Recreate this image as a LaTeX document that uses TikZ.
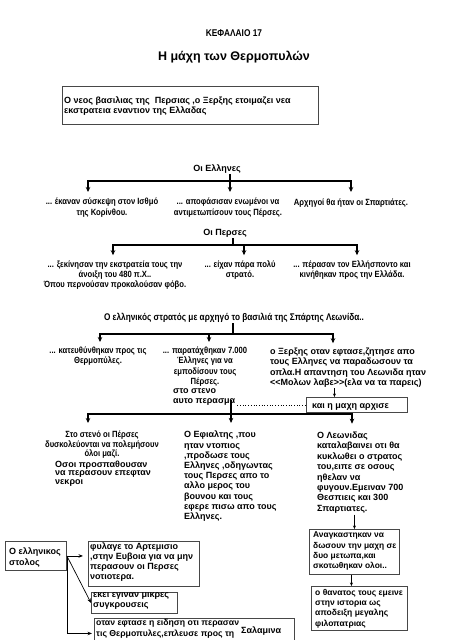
\documentclass[tikz,border=0pt]{standalone}
\usepackage{fontspec}
\setmainfont{Liberation Sans}
\newfontfamily\narrowfont[FakeStretch=0.85]{Liberation Sans}
\usetikzlibrary{arrows.meta}
\begin{document}
\begin{tikzpicture}[x=1pt,y=-1pt,
  nar/.style={font=\narrowfont\bfseries\fontsize{9}{10.4}\selectfont, align=center, inner sep=0pt, anchor=north, execute at begin node=\strut, execute at end node=\strut},
  bt/.style={font=\bfseries\fontsize{9}{10.2}\selectfont, align=left, inner sep=0pt, anchor=north west, execute at begin node=\strut, execute at end node=\strut},
  box/.style={draw=black!72, line width=0.9pt, inner sep=0pt, anchor=north west},
  br/.style={line width=1.3pt, line cap=rect},
  barr/.style={line width=1.3pt, -{Stealth[length=5pt,width=4.5pt]}},
  sarr/.style={line width=0.6pt, -{Stealth[length=3.5pt,width=3pt]}},
  farr/.style={line width=0.7pt, -{Stealth[length=4.5pt,width=3.5pt]}},
  dots/.style={dotted, line width=0.7pt}
]
\fill[white] (0,0) rectangle (453,640);
\useasboundingbox (0,0) rectangle (453,640);

% titles
\node[nar, anchor=base, font=\narrowfont\bfseries\fontsize{9.8}{11}\selectfont] (kef) at (234,36.7) {ΚΕΦΑΛΑΙΟ 17};
\node[anchor=base, inner sep=0pt, font=\bfseries\fontsize{12.5}{14}\selectfont] (tit) at (234,60) {Η μάχη των Θερμοπυλών};

% top box
\node[box, minimum width=256pt, minimum height=38pt] (topbox) at (62,86) {};
\node[bt, font=\bfseries\fontsize{9}{9.5}\selectfont] (toptxt) at (64,96.9) {Ο νεος βασιλιας της\ \ Περσιας ,ο Ξερξης ετοιμαζει νεα\\εκστρατεια εναντιον της Ελλαδας};

% Οι Ελληνες
\node[bt, anchor=base] (el) at (217,171.7) {Οι Ελληνες};
\node[nar] (a1) at (102,198) {... έκαναν σύσκεψη στον Ισθμό\\της Κορίνθου.};
\node[nar] (a2) at (228,198) {... αποφάσισαν ενωμένοι να\\αντιμετωπίσουν τους Πέρσες.};
\node[nar] (a3) at (351,198) {Αρχηγοί θα ήταν οι Σπαρτιάτες.};
\coordinate (j1) at (230,181);
\coordinate (h1a) at (88,181);
\coordinate (h1b) at (351,181);
\draw[br] (el.south -| j1) -- (j1);
\draw[br] (h1a) -- (h1b);
\draw[barr, shorten >=6pt] (h1a) -- (h1a |- a1.north);
\draw[barr, shorten >=6pt] (j1) -- (j1 |- a2.north);
\draw[barr, shorten >=6pt] (h1b) -- (h1b |- a3.north);

% Οι Περσες
\node[bt, anchor=base] (pe) at (225,235) {Οι Περσες};
\node[nar] (p1) at (115,260.2) {... ξεκίνησαν την εκστρατεία τους την\\άνοιξη του 480 π.Χ..\\Όπου περνούσαν προκαλούσαν φόβο.};
\node[nar] (p2) at (240,260.2) {... είχαν πάρα πολύ\\στρατό.};
\node[nar] (p3) at (352,260.2) {... πέρασαν τον Ελλήσποντο και\\κινήθηκαν προς την Ελλάδα.};
\coordinate (j2) at (233,245);
\coordinate (h2a) at (113,245);
\coordinate (h2m) at (244,245);
\coordinate (h2b) at (357,245);
\draw[br] (pe.south -| j2) -- (j2);
\draw[br] (h2a) -- (h2b);
\draw[barr, shorten >=5pt] (h2a) -- (h2a |- p1.north);
\draw[barr, shorten >=5pt] (h2m) -- (h2m |- p2.north);
\draw[barr, shorten >=5pt] (h2b) -- (h2b |- p3.north);

% Λεωνίδας
\node[nar, anchor=base, font=\narrowfont\bfseries\fontsize{9.7}{10.4}\selectfont] (leo) at (234,320) {Ο ελληνικός στρατός με αρχηγό το βασιλιά της Σπάρτης Λεωνίδα..};
\node[nar] (s1) at (98,346.7) {... κατευθύνθηκαν προς τις\\Θερμοπύλες.};
\node[nar] (s2) at (205,346.7) {... παρατάχθηκαν 7.000\\Έλληνες για να\\εμποδίσουν τους\\Πέρσες.};
\node[bt, font=\bfseries\fontsize{9}{10}\selectfont] (stpass) at (173,388.5) {στο στενο\\αυτο περασμα};
\node[bt] (s3) at (270,347.9) {ο Ξερξης οταν εφτασε,ζητησε απο\\τους Ελληνες να παραδωσουν τα\\οπλα.Η απαντηση του Λεωνιδα ηταν\\<\kern0pt<Μολων λαβε>\kern0pt>(ελα να τα παρεις)};
\coordinate (j3) at (233,334);
\coordinate (h3a) at (100,334);
\coordinate (h3m) at (209,334);
\coordinate (h3b) at (333,334);
\draw[br] (leo.south -| j3) -- (j3);
\draw[br] (h3a) -- (h3b);
\draw[barr, shorten >=4.7pt] (h3a) -- (h3a |- s1.north);
\draw[barr, shorten >=4.7pt] (h3m) -- (h3m |- s2.north);
\draw[barr, shorten >=4.7pt] (h3b) -- (h3b |- s3.north);

% και η μαχη αρχισε
\node[box, minimum width=101pt, minimum height=15pt] (mx) at (306,397) {};
\node[bt] (mxt) at (312,400.9) {και η μαχη αρχισε};
\draw[sarr] ([xshift=-22.5pt]mx.north |- s3.south) -- ([xshift=-22.5pt]mx.north);
\draw[dots, shorten <=2pt] (stpass.east |- mx.west) -- (mx.west);

% big bracket
\coordinate (j4t) at (231,401);
\coordinate (j4) at (231,414);
\coordinate (h4a) at (88,414);
\coordinate (h4b) at (352,414);
\node[nar, font=\narrowfont\bfseries\fontsize{9}{9.2}\selectfont] (b1) at (102,431) {Στο στενό οι Πέρσες\\δυσκολεύονται να πολεμήσουν\\όλοι μαζί.};
\node[bt, font=\bfseries\fontsize{9}{8.8}\selectfont] (b2) at (55,460.3) {Οσοι προσπαθουσαν\\να περασουν επεφταν\\νεκροι};
\node[bt] (b3) at (184,430.9) {Ο Εφιαλτης ,που\\ηταν ντοπιος\\,προδωσε τους\\Ελληνες ,οδηγωντας\\τους Περσες απο το\\αλλο μερος του\\βουνου και τους\\εφερε πισω απο τους\\Ελληνες.};
\node[bt, font=\bfseries\fontsize{9}{10.4}\selectfont] (b4) at (317,431.7) {Ο Λεωνιδας\\καταλαβαινει οτι θα\\κυκλωθει ο στρατος\\του,ειπε σε οσους\\ηθελαν να\\φυγουν.Εμειναν 700\\Θεσπιεις και 300\\Σπαρτιατες.};
\draw[br] (j4t) -- (j4);
\draw[br] (h4a) -- (h4b);
\draw[barr, shorten >=8pt] (h4a) -- (h4a |- b1.north);
\draw[barr, shorten >=8pt] (j4) -- (j4 |- b3.north);
\draw[barr, shorten >=8pt] (h4b) -- (h4b |- b4.north);

% right column boxes
\node[box, minimum width=90pt, minimum height=45pt] (c1) at (309,529) {};
\node[bt, font=\bfseries\fontsize{8.4}{10.2}\selectfont] (c1t) at (313,531.9) {Αναγκαστηκαν να\\δωσουν την μαχη σε\\δυο μετωπα,και\\σκοτωθηκαν ολοι..};
\node[box, minimum width=96pt, minimum height=44pt] (c2) at (311,586) {};
\node[bt, font=\bfseries\fontsize{8.5}{10.4}\selectfont] (c2t) at (315,588.7) {ο θανατος τους εμεινε\\στην ιστορια ως\\αποδειξη μεγαλης\\φιλοπατριας};
\draw[sarr] (c1.north |- b4.south) -- (c1.north);
\draw[sarr] ([xshift=-3pt]c1.south) -- ([xshift=-3pt]c1.south |- c2.north);

% fleet
\node[box, minimum width=61pt, minimum height=29pt] (f0) at (5,541) {};
\node[bt] (f0t) at (9,547.9) {Ο ελληνικος\\στολος};
\node[box, minimum width=111pt, minimum height=45pt] (f1) at (88,541) {};
\node[bt, font=\bfseries\fontsize{9}{10}\selectfont] (f1t) at (90,542.9) {φυλαγε το Αρτεμισιο\\,στην Ευβοια για να μην\\περασουν οι Περσες\\νοτιοτερα.};
\node[box, minimum width=86pt, minimum height=21pt] (f2) at (91,592) {};
\node[bt, font=\bfseries\fontsize{9}{10}\selectfont] (f2t) at (93,592.9) {εκει εγιναν μικρες\\συγκρουσεις};
\node[box, minimum width=200pt, minimum height=30pt] (f3) at (94,618) {};
\node[bt, font=\bfseries\fontsize{8.7}{11}\selectfont] (f3t) at (96,618.9) {οταν εφτασε η ειδηση οτι περασαν\\τις Θερμοπυλες,επλευσε προς τη};
\node[bt, anchor=base west] (sal) at (241,633) {Σαλαμινα};
\draw[farr] (f0.east) -- ([xshift=-5pt]f1.west |- f0.east);
\draw[farr] (f0.east) -- (f2.west);
\draw[farr] (f0.east) |- ([xshift=-2pt]f3.west);
\end{tikzpicture}
\end{document}
